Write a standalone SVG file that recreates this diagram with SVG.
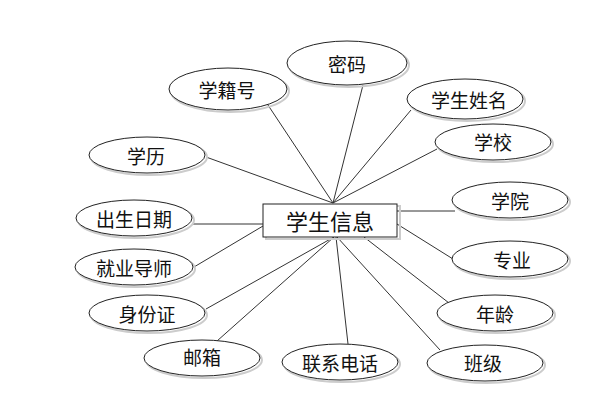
<svg xmlns="http://www.w3.org/2000/svg" width="614" height="406" viewBox="0 0 614 406">
<style>
.e{fill:#fff;stroke:#222;stroke-width:1}
.s{fill:none;stroke:#ccc;stroke-width:2}
.t{font-family:"Noto Sans CJK SC","Liberation Sans",sans-serif;font-size:19px;fill:#111;text-anchor:middle;dominant-baseline:central}
.c line{stroke:#333;stroke-width:1}
</style>
<rect width="614" height="406" fill="#fff"/>
<g class="c" id="connectors">
<line x1="256" y1="87" x2="333" y2="203"/>
<line x1="363" y1="85" x2="333" y2="203"/>
<line x1="411" y1="110" x2="333" y2="203"/>
<line x1="437" y1="149" x2="333" y2="203"/>
<line x1="206" y1="157" x2="333" y2="203"/>
<line x1="396" y1="211" x2="455" y2="211"/>
<line x1="192" y1="224" x2="263" y2="224"/>
<line x1="194" y1="267" x2="263" y2="226"/>
<line x1="397" y1="224" x2="453" y2="259"/>
<line x1="206" y1="309" x2="334" y2="237"/>
<line x1="217" y1="341" x2="334" y2="237"/>
<line x1="348" y1="344" x2="336" y2="237"/>
<line x1="440" y1="350" x2="337" y2="237"/>
<line x1="449" y1="303" x2="364" y2="237"/>
</g>
<g id="n-xjh"><ellipse class="s" cx="230" cy="91" rx="59" ry="21"/><ellipse class="e" cx="228" cy="89" rx="59" ry="21"/><text class="t" x="227" y="89">学籍号</text></g>
<g id="n-mm"><ellipse class="s" cx="349" cy="65" rx="60" ry="22"/><ellipse class="e" cx="347" cy="63" rx="60" ry="22"/><text class="t" x="347" y="63">密码</text></g>
<g id="n-xsxm"><ellipse class="s" cx="467" cy="101" rx="58" ry="20"/><ellipse class="e" cx="465" cy="99" rx="58" ry="20"/><text class="t" x="469" y="99">学生姓名</text></g>
<g id="n-xx"><ellipse class="s" cx="495" cy="144" rx="58" ry="18"/><ellipse class="e" cx="493" cy="142" rx="58" ry="18"/><text class="t" x="493" y="141">学校</text></g>
<g id="n-xl"><ellipse class="s" cx="149" cy="157" rx="58" ry="18"/><ellipse class="e" cx="147" cy="155" rx="58" ry="18"/><text class="t" x="146" y="155">学历</text></g>
<g id="n-xy"><ellipse class="s" cx="512" cy="202" rx="58" ry="18"/><ellipse class="e" cx="510" cy="200" rx="58" ry="18"/><text class="t" x="510" y="200">学院</text></g>
<g id="n-csrq"><ellipse class="s" cx="136" cy="220" rx="58" ry="18"/><ellipse class="e" cx="134" cy="218" rx="58" ry="18"/><text class="t" x="134" y="218">出生日期</text></g>
<g id="n-jyds"><ellipse class="s" cx="136" cy="269" rx="59" ry="18"/><ellipse class="e" cx="134" cy="267" rx="59" ry="18"/><text class="t" x="134" y="267">就业导师</text></g>
<g id="n-zy"><ellipse class="s" cx="512" cy="261" rx="58" ry="18"/><ellipse class="e" cx="510" cy="259" rx="58" ry="18"/><text class="t" x="512" y="259">专业</text></g>
<g id="n-sfz"><ellipse class="s" cx="149" cy="315" rx="58" ry="18"/><ellipse class="e" cx="147" cy="313" rx="58" ry="18"/><text class="t" x="147" y="313">身份证</text></g>
<g id="n-nl"><ellipse class="s" cx="497" cy="315" rx="58" ry="18"/><ellipse class="e" cx="495" cy="313" rx="58" ry="18"/><text class="t" x="495" y="313">年龄</text></g>
<g id="n-yx"><ellipse class="s" cx="204" cy="360" rx="58" ry="18"/><ellipse class="e" cx="202" cy="358" rx="58" ry="18"/><text class="t" x="202" y="356">邮箱</text></g>
<g id="n-lxdh"><ellipse class="s" cx="342" cy="364" rx="58" ry="18"/><ellipse class="e" cx="340" cy="362" rx="58" ry="18"/><text class="t" x="340" y="362">联系电话</text></g>
<g id="n-bj"><ellipse class="s" cx="487" cy="365" rx="58" ry="18"/><ellipse class="e" cx="485" cy="363" rx="58" ry="18"/><text class="t" x="483" y="362">班级</text></g>
<g id="n-xsxx"><rect x="266" y="206" width="134" height="33" fill="none" stroke="#ccc" stroke-width="2"/><rect x="263" y="204" width="134" height="33" fill="#fff" stroke="#222" stroke-width="1"/><text class="t" x="330" y="220" style="font-size:22px">学生信息</text></g>
</svg>
